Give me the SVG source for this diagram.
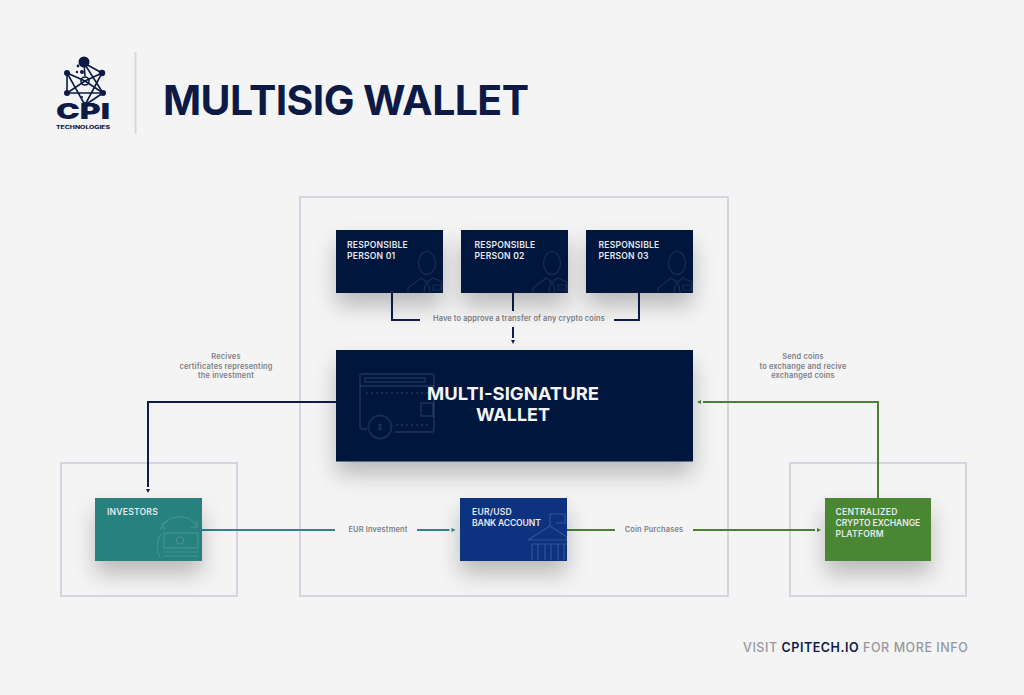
<svg xmlns="http://www.w3.org/2000/svg" width="1024" height="695" viewBox="0 0 1024 695">
<style>
text{font-family:Inter,"Liberation Sans",sans-serif}
.frame{fill:none;stroke:#d3d6e0;stroke-width:2}
.nt{fill:#e6e9ee;font-size:8.6px;font-weight:600;letter-spacing:.2px}
.lb{fill:#7d7f85;font-size:7.4px;font-weight:600;text-anchor:middle;letter-spacing:.2px}
.ic{fill:none;stroke:#fff;stroke-opacity:.1;stroke-width:1.2}
.c{fill:none;stroke-width:2}
.navy{stroke:#0f1c4d}.teal{stroke:#2f8587}.green{stroke:#4a8232}
.lg{stroke:#0d1a45;stroke-width:1.6;fill:none}
.ld{fill:#0d1a45}
</style>
<defs>
<filter id="sh" x="-50%" y="-50%" width="200%" height="230%">
<feDropShadow dx="0" dy="13" stdDeviation="11" flood-color="#000" flood-opacity=".24"/>
</filter>
<marker id="mn" markerWidth="5" markerHeight="5" refX="-2" refY="2.5" orient="auto" markerUnits="userSpaceOnUse" overflow="visible"><path d="M0 .5L4 2.500L0 4.500Z" fill="#0f1c4d"/></marker>
<marker id="mt" markerWidth="5" markerHeight="5" refX="-2" refY="2.5" orient="auto" markerUnits="userSpaceOnUse" overflow="visible"><path d="M0 .5L4 2.500L0 4.500Z" fill="#2f8587"/></marker>
<marker id="mg" markerWidth="5" markerHeight="5" refX="-2" refY="2.5" orient="auto" markerUnits="userSpaceOnUse" overflow="visible"><path d="M0 .5L4 2.500L0 4.500Z" fill="#4a8232"/></marker>
<g id="person" class="ic"><ellipse cx="0" cy="0" rx="8.500" ry="11.500"/><path d="M-19 30V25L-6 15 0 19 6 15 15 19V30M-2 19 0 22 2 19M-2 22-3 30M2 22 3 30M6 22H14V27H6Z"/></g>
</defs>
<rect width="1024" height="695" fill="#f4f4f5"/>

<g id="logo">
<g class="lg"><path d="M84 63L103 93 67 93 85 81 102 73 85 105 67 73 85 81 103 93M84 63L102 73M84 63L85 76M67 73L67 93M85 105L103 93"/><circle cx="85" cy="81" r="4"/></g>
<g class="ld"><circle cx="84" cy="62" r="5.500"/><circle cx="102" cy="73" r="3.200"/><circle cx="67" cy="73" r="3"/><circle cx="67" cy="93" r="3"/><circle cx="103" cy="93" r="3"/><circle cx="85" cy="105" r="3"/><circle cx="78" cy="66" r="1.400"/><circle cx="82" cy="72" r="2"/><circle cx="77" cy="72" r="1.200"/><circle cx="82" cy="97" r="1"/></g>
<text x="83" y="118.500" text-anchor="middle" font-size="22" font-weight="900" fill="#0d1a45" textLength="54" lengthAdjust="spacingAndGlyphs">CPI</text>
<text x="83" y="128.500" text-anchor="middle" font-size="4.400" font-weight="800" fill="#0d1a45" textLength="54" lengthAdjust="spacingAndGlyphs">TECHNOLOGIES</text>
</g>
<rect id="divider" x="134.500" y="52" width="2" height="82" fill="#d6dae0"/>
<text id="title" x="163" y="115" font-size="41" font-weight="700" fill="#0d1a45" textLength="366">MULTISIG WALLET</text>

<g id="frames">
<rect class="frame" x="300" y="197" width="428" height="399"/>
<rect class="frame" x="61" y="463" width="176" height="133"/>
<rect class="frame" x="790" y="463" width="176" height="133"/>
</g>

<g id="connectors">
<path class="c navy" d="M392 293V320H420"/>
<path class="c navy" d="M513 293V311"/>
<path class="c navy" d="M639 293V320H614"/>
<path class="c navy" d="M513 327V338" marker-end="url(#mn)"/>
<path class="c navy" d="M336 402H148V487" marker-end="url(#mn)"/>
<path class="c teal" d="M202 530H335"/>
<path class="c teal" d="M417 530H449.500" marker-end="url(#mt)"/>
<path class="c green" d="M567 530H615"/>
<path class="c green" d="M693 530H815" marker-end="url(#mg)"/>
<path class="c green" d="M878 498V402H703" marker-end="url(#mg)"/>
</g>

<g id="labels">
<text class="lb" x="519" y="321" textLength="172">Have to approve a transfer of any crypto coins</text>
<text class="lb" x="226" y="359">Recives</text>
<text class="lb" x="226" y="369">certificates representing</text>
<text class="lb" x="226" y="378">the investment</text>
<text class="lb" x="803" y="359">Send coins</text>
<text class="lb" x="803" y="369">to exchange and recive</text>
<text class="lb" x="803" y="378">exchanged coins</text>
<text class="lb" x="378" y="532">EUR Investment</text>
<text class="lb" x="654" y="532">Coin Purchases</text>
</g>

<g id="person1">
<rect x="336" y="230" width="107" height="63" fill="#02123c" filter="url(#sh)"/>
<use href="#person" x="427" y="263"/>
<text class="nt" x="347" y="248">RESPONSIBLE</text><text class="nt" x="347" y="259">PERSON 01</text>
</g>
<g id="person2">
<rect x="461" y="230" width="107" height="63" fill="#02123c" filter="url(#sh)"/>
<use href="#person" x="552" y="263"/>
<text class="nt" x="474.500" y="248">RESPONSIBLE</text><text class="nt" x="474.500" y="259">PERSON 02</text>
</g>
<g id="person3">
<rect x="586" y="230" width="107" height="63" fill="#02123c" filter="url(#sh)"/>
<use href="#person" x="677" y="263"/>
<text class="nt" x="598.500" y="248">RESPONSIBLE</text><text class="nt" x="598.500" y="259">PERSON 03</text>
</g>

<g id="wallet">
<rect x="336" y="350" width="357" height="111.500" fill="#02123c" filter="url(#sh)"/>
<g class="ic" style="stroke-width:1.800">
<path d="M367 429H362a2 2 0 0 1-2-2V376a2 2 0 0 1 2-2H432a2 2 0 0 1 2 2V430a2 2 0 0 1-2 2H395"/>
<rect x="365" y="378" width="60" height="4"/>
<path d="M360 386H434"/>
<path d="M366 393H428M396 425H430" stroke-dasharray="2 3"/>
<rect x="421" y="403" width="12" height="13"/>
<circle cx="380" cy="427" r="11.500"/>
</g>
<text x="380" y="430" text-anchor="middle" font-size="7" fill="#fff" fill-opacity=".2">$</text>
<text x="513" y="400" text-anchor="middle" font-size="17.500" font-weight="700" fill="#f4f5f7" textLength="172" lengthAdjust="spacingAndGlyphs">MULTI-SIGNATURE</text>
<text x="513" y="421" text-anchor="middle" font-size="17.500" font-weight="700" fill="#f4f5f7" textLength="74" lengthAdjust="spacingAndGlyphs">WALLET</text>
</g>

<g id="investors">
<rect x="95" y="498" width="107" height="63" fill="#25817f" filter="url(#sh)"/>
<g class="ic" style="stroke-opacity:.14">
<rect x="164" y="533" width="34" height="15"/>
<path d="M164 552H198M164 556H198M160 530a21 21 0 0 1 37-4M197 521V527H191M160 558a24 24 0 0 1 1-24M168 521l-6 3 3 6"/>
<circle cx="180" cy="540.500" r="3.500"/>
</g>
<text class="nt" x="107" y="515">INVESTORS</text>
</g>

<g id="bank">
<rect x="460" y="498" width="107" height="63" fill="#11317f" filter="url(#sh)"/>
<g class="ic" style="stroke-opacity:.16">
<path d="M550 526V514H565V523H556M528 540L550 526L567 537V540H528M532 544H567M532 544V560M538 544V560M545 544V560M551 544V560M558 544V560M564 544V560"/>
</g>
<text class="nt" x="472" y="515">EUR/USD</text><text class="nt" x="472" y="526" textLength="69">BANK ACCOUNT</text>
</g>

<g id="exchange">
<rect x="825" y="498" width="106" height="63" fill="#4a8731" filter="url(#sh)"/>
<text class="nt" x="835.500" y="515">CENTRALIZED</text><text class="nt" x="835.500" y="526" textLength="85">CRYPTO EXCHANGE</text><text class="nt" x="835.500" y="537">PLATFORM</text>
</g>

<text id="footer" x="743" y="652" font-size="12.500" font-weight="500" letter-spacing=".55" fill="#96989d">VISIT <tspan font-weight="600" fill="#0d1a45">CPITECH.IO</tspan> FOR MORE INFO</text>
</svg>
